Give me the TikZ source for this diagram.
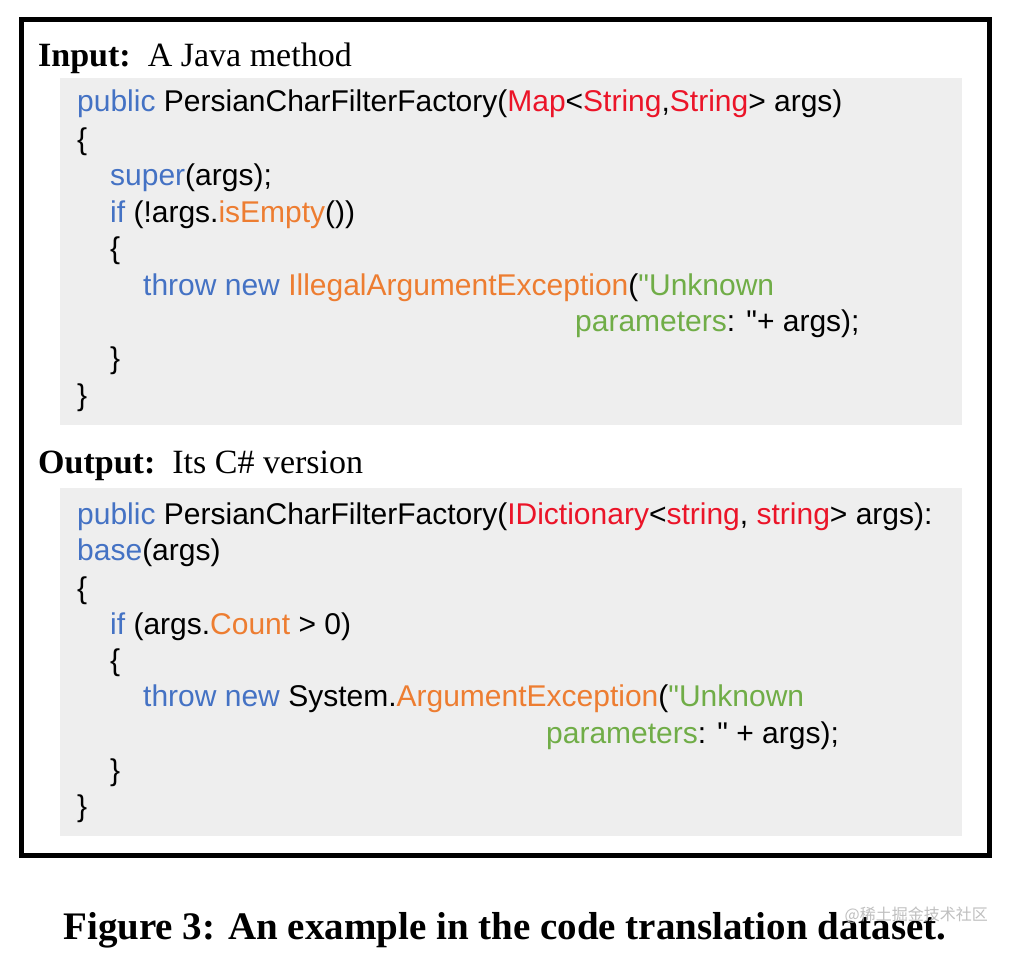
\documentclass[tikz,border=0pt]{standalone}
\usepackage{fontspec}
\setmainfont{Liberation Serif}
\newfontfamily\codefont{Liberation Sans}
\newfontfamily\cjkf{Noto Sans CJK SC}
\definecolor{kw}{RGB}{68,114,196}
\definecolor{ty}{RGB}{235,20,40}
\definecolor{me}{RGB}{237,125,49}
\definecolor{st}{RGB}{112,173,71}
\definecolor{bg}{RGB}{238,238,238}
\newcommand{\K}[1]{\textcolor{kw}{#1}}
\newcommand{\T}[1]{\textcolor{ty}{#1}}
\newcommand{\M}[1]{\textcolor{me}{#1}}
\newcommand{\G}[1]{\textcolor{st}{#1}}
\begin{document}
\begin{tikzpicture}[x=1pt,y=-1pt,
  code/.style={anchor=mid west,inner sep=0pt,font=\codefont\fontsize{30}{36}\selectfont},
  lab/.style={anchor=mid west,inner sep=0pt,font=\fontsize{34}{40}\selectfont}]
\useasboundingbox[fill=white] (0,0) rectangle (1013,956);
\draw[line width=5pt] (21,19) rectangle (989,855) coordinate (frame);
\fill[bg] (60,78) rectangle (962,425);
\fill[bg] (60,488) rectangle (962,836);
\node[lab] (in) at (38,64) {\textbf{Input:}\ \ A Java method};
\node[lab] (out) at (38,471) {\textbf{Output:}\ \ Its C\# version};
% input code
\node[code] (a1) at (77,109) {\K{public} PersianCharFilterFactory(\T{Map}<\T{String},\T{String}> args)};
\node[code] (a2) at (77,147) {\{};
\node[code] (a3) at (110,183) {\K{super}(args);};
\node[code] (a4) at (110,220) {\K{if} (!args.\M{isEmpty}())};
\node[code] (a5) at (110,256) {\{};
\node[code] (a6) at (143,293) {\K{throw new} \M{IllegalArgumentException}(\G{"Unknown}};
\node[code] (a7) at (575,329) {\G{parameters}: "+ args);};
\node[code] (a8) at (110,366) {\}};
\node[code] (a9) at (77,403) {\}};
% output code
\node[code] (b1) at (77,522) {\K{public} PersianCharFilterFactory(\T{IDictionary}<\T{string}, \T{string}> args):};
\node[code] (b2) at (77,558) {\K{base}(args)};
\node[code] (b3) at (77,596) {\{};
\node[code] (b4) at (110,632) {\K{if} (args.\M{Count} > 0)};
\node[code] (b5) at (110,668) {\{};
\node[code] (b6) at (143,704) {\K{throw new} System.\M{ArgumentException}(\G{"Unknown}};
\node[code] (b7) at (546,741) {\G{parameters}: " + args);};
\node[code] (b8) at (110,778) {\}};
\node[code] (b9) at (77,814) {\}};
\node[anchor=mid,inner sep=0pt,font=\bfseries\fontsize{39}{46}\selectfont] (cap) at (505,937) {Figure 3: An example in the code translation dataset.};
\node[anchor=mid east,inner sep=0pt,text=black!25,font=\cjkf\fontsize{16}{18}\selectfont] (wm) at (988,918) {@稀土掘金技术社区};
\end{tikzpicture}
\end{document}
